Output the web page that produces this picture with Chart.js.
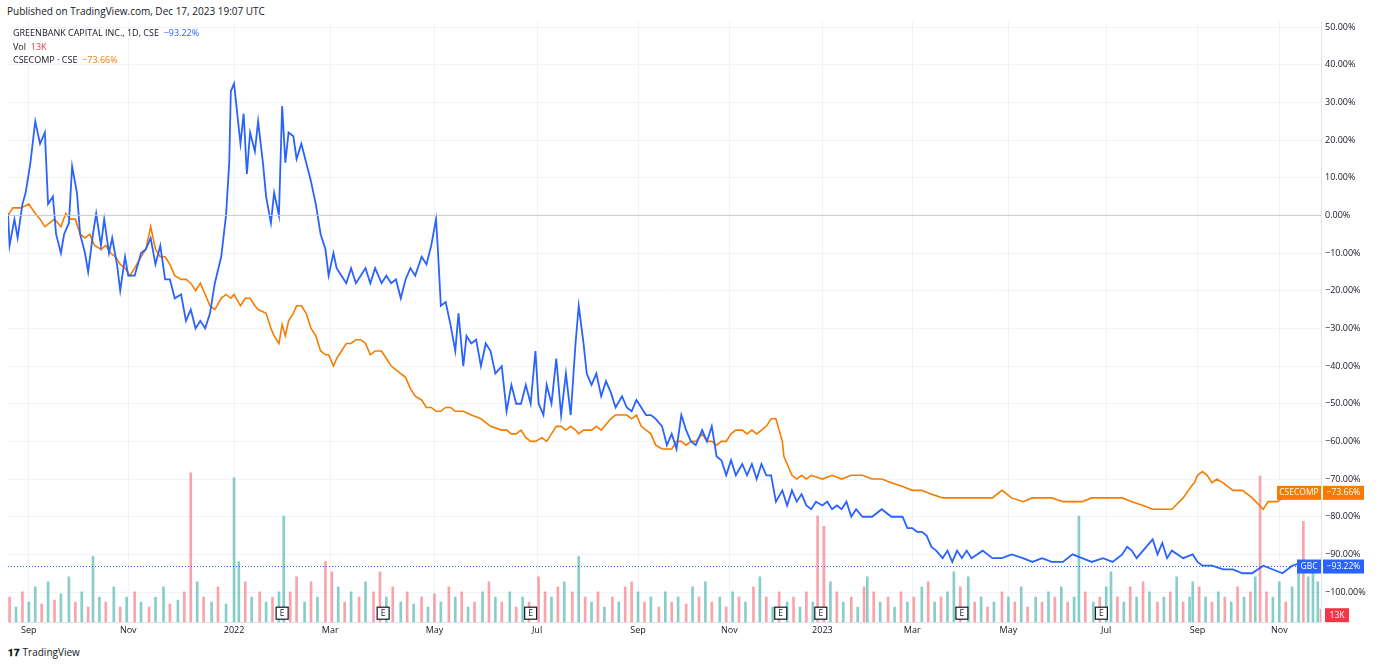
<!DOCTYPE html>
<html>
<head>
<meta charset="utf-8">
<script src="https://cdn.jsdelivr.net/npm/chart.js@4/dist/chart.umd.min.js"></script>
<style>
body { margin:0; width:1379px; height:665px; background:#fff; font-family:"Open Sans", Roboto, sans-serif; overflow:hidden; position:relative; }
#pub { position:absolute; left:7px; top:4px; font-size:10px; color:#131722; }
#box { position:absolute; left:0; top:12px; width:1379px; height:627px; }
#legend { position:absolute; left:13px; top:26px; font-size:9px; color:#131722; line-height:13.5px; }
#logo { position:absolute; left:8px; top:645px; font-size:10px; color:#131722; }
</style>
</head>
<body>
<div id="pub">Published on TradingView.com, Dec 17, 2023 19:07 UTC</div>
<div id="box"><canvas id="chart"></canvas></div>
<div id="legend">
GREENBANK CAPITAL INC., 1D, CSE &nbsp;<span style="color:#2962ff">−93.22%</span><br>
Vol &nbsp;<span style="color:#f23645">13K</span><br>
CSECOMP · CSE &nbsp;<span style="color:#f57c00">−73.66%</span>
</div>
<div id="logo"><b>𝟏𝟕</b> TradingView</div>
<script>
// x unit = bar index (trading days since series start)
var tickDays = [13, 75, 141, 201, 266, 330, 393, 450, 508, 564, 624, 685, 742, 793];
var tickLabels = ["Sep", "Nov", "2022", "Mar", "May", "Jul", "Sep", "Nov", "2023", "Mar", "May", "Jul", "Sep", "Nov"];
var pctTicks = [50, 40, 30, 20, 10, 0, -10, -20, -30, -40, -50, -60, -70, -80, -90, -100];

var gbcDays = [0,1,4,6,9,11,14,17,20,23,25,28,30,33,35,38,40,43,45,48,50,53,55,58,60,63,65,68,70,73,75,79,83,86,89,92,95,98,101,104,108,111,114,117,120,123,126,129,133,136,138,139,141,143,145,147,149,151,154,156,159,161,164,166,169,171,173,175,178,180,183,186,189,192,195,198,200,203,205,208,211,214,217,220,223,226,229,233,236,239,242,245,248,251,254,258,261,264,267,268,270,273,276,279,281,284,286,289,292,295,298,301,304,308,311,314,317,320,323,326,329,331,334,336,339,342,345,348,351,354,356,359,361,364,367,370,373,376,379,383,386,389,392,395,398,401,404,408,411,414,417,420,423,426,429,433,436,439,442,445,448,451,454,458,461,464,467,470,473,476,479,483,486,489,492,495,498,501,504,508,511,514,517,520,523,526,529,533,539,545,551,558,561,564,567,570,573,576,579,583,586,589,592,595,598,601,608,614,620,626,633,639,645,651,658,664,670,676,683,689,695,698,701,704,708,714,717,720,723,726,733,739,742,745,751,758,764,770,776,783,789,795,801,808,814,819];
var gbcPct = [0.5,-8,-1,-6,3,6,14,25,19,22,3,5,-5,-10,-5,-2,13,6,-5,-10,-15,-5,0.5,-8,-1,-10,-6,-13,-20,-11,-16,-16,-10,-9,-6,-13,-8,-17,-17,-22,-21,-28,-25,-30,-28,-30,-26,-18,-11,0,14,33,35,27,19,27,11,22,17,25,14,5,-2,6,0,29,14,22,21,15,19,14,9,3,-5,-9,-16,-10,-14,-16,-18,-14,-18,-16,-14,-18,-14,-18,-16,-18,-17,-22,-17,-14,-16,-11,-13,-8,-1,-8,-24,-23,-29,-36,-26,-40,-32,-34,-33,-40,-34,-36,-42,-40,-52,-45,-50,-50,-45,-50,-36,-50,-53,-45,-50,-38,-53,-42,-53,-34,-24,-34,-42,-45,-42,-48,-44,-47,-51,-48,-51,-52,-49,-51,-53,-53,-54,-56,-61,-58,-62,-53,-57,-60,-61,-57,-60,-56,-64,-65,-69,-65,-69,-66,-69,-66,-70,-66,-69,-69,-76,-73,-77,-73,-76,-74,-77,-78,-76,-77,-76,-78,-77,-78,-76,-80,-78,-80,-80,-78,-80,-80,-83,-83,-84,-84,-85,-88,-89,-91,-89,-92,-89,-91,-89,-91,-89,-91,-91,-90,-91,-92,-91,-92,-92,-90,-91,-92,-91,-92,-90,-88,-89,-91,-89,-86,-90,-87,-91,-89,-91,-90,-92,-93,-93,-94,-94,-95,-95,-93,-94,-95,-93,-92,-93,-93.22];

var cseDays = [0,3,8,13,17,20,23,26,29,33,36,39,42,45,48,51,54,58,61,64,67,70,73,76,79,83,86,89,92,95,98,101,104,108,111,114,117,120,123,126,129,133,136,139,141,145,148,151,154,156,161,164,166,169,171,173,175,178,180,183,186,189,192,195,198,200,203,205,208,211,214,217,220,223,226,229,233,236,239,242,245,248,251,254,258,261,264,267,270,273,276,279,281,284,289,295,301,308,311,314,317,320,323,326,329,333,336,339,342,345,348,351,354,356,359,364,367,370,376,379,383,386,389,392,395,398,401,404,408,411,414,417,420,423,426,429,433,436,439,442,445,448,451,454,458,461,464,467,470,473,476,479,483,484,486,489,492,495,498,501,508,514,520,526,533,539,545,551,558,564,570,576,583,589,595,601,608,614,620,626,633,639,645,651,658,664,670,676,683,689,695,701,708,714,720,726,733,738,740,742,745,748,751,754,758,761,764,770,776,783,786,789,792,795,801,808,814,819];
var csePct = [0,2,2,3,0.5,-1,-3,-2,-1,-3,0.5,-1,-1,-5,-6,-5,-8,-9,-8,-10,-11,-13,-14,-16,-14,-11,-9,-3,-9,-11,-11,-13,-16,-17,-17,-18,-20,-18,-21,-24,-25,-22,-21,-22,-21,-24,-22,-22,-24,-25,-26,-30,-32,-34,-29,-32,-28,-26,-24,-24,-26,-30,-32,-36,-37,-37,-40,-38,-36,-34,-34,-33,-33,-34,-37,-36,-36,-38,-40,-41,-42,-43,-46,-48,-49,-51,-51,-52,-52,-51,-51,-52,-52,-52,-53,-54,-56,-57,-57,-58,-58,-57,-59,-60,-60,-59,-60,-58,-56,-56,-57,-56,-57,-58,-57,-57,-56,-57,-54,-53,-53,-53,-54,-53,-56,-57,-58,-61,-62,-62,-62,-60,-60,-61,-60,-60,-58,-60,-60,-61,-60,-60,-58,-57,-57,-58,-57,-58,-57,-56,-54,-54,-60,-64,-66,-69,-70,-69,-70,-69,-70,-69,-70,-69,-69,-70,-70,-71,-72,-73,-73,-74,-75,-75,-75,-75,-75,-75,-73,-75,-76,-75,-75,-75,-76,-76,-76,-75,-75,-75,-75,-76,-77,-78,-78,-78,-75,-72,-71,-69,-68,-69,-71,-70,-71,-72,-73,-73,-75,-78,-76,-76,-76,-75,-73,-73.66];

// volume bars: [bar index, volume in K, 1 = up day]
var volBars = [
  [1,25,0],[5,15,1],[9,30,0],[13,20,1],[17,35,1],[21,18,0],[25,40,1],[29,22,0],[33,28,1],[38,45,1],
  [42,20,0],[46,30,1],[50,15,0],[53,65,1],[57,25,1],[61,20,0],[66,35,1],[70,15,0],[74,25,1],[79,30,0],
  [83,20,1],[88,15,0],[92,25,1],[97,35,1],[101,18,0],[106,22,1],[110,30,0],[114,148,0],[118,40,1],[122,25,0],
  [127,20,1],[131,35,0],[136,18,1],[141,143,1],[144,60,1],[148,40,0],[152,25,1],[157,30,0],[161,20,1],[165,25,0],
  [169,30,1],[172,105,1],[176,30,0],[180,45,0],[185,20,1],[189,40,0],[193,25,1],[198,60,0],[202,50,0],[206,35,1],
  [210,20,0],[214,30,1],[219,25,0],[223,40,1],[228,30,0],[232,50,0],[236,25,1],[240,35,0],[245,20,1],[249,30,0],
  [253,18,1],[258,25,0],[262,15,1],[266,28,0],[270,20,1],[275,35,0],[279,25,1],[283,30,0],[287,15,1],[291,20,0],
  [296,30,1],[300,40,0],[304,25,1],[308,20,0],[313,30,1],[317,15,0],[321,25,1],[325,20,0],[331,45,0],[335,30,0],
  [339,25,1],[343,35,0],[347,40,1],[352,30,0],[356,65,1],[360,25,0],[364,20,1],[368,30,0],[372,15,1],[377,25,0],
  [381,20,1],[385,35,0],[389,40,0],[393,30,1],[397,20,0],[401,25,1],[406,15,0],[410,30,1],[414,20,0],[418,25,1],
  [423,18,0],[427,35,1],[431,25,0],[435,40,1],[439,20,0],[444,25,1],[448,15,0],[452,30,1],[456,25,0],[460,20,1],
  [465,35,0],[469,45,1],[473,25,0],[477,15,1],[481,30,0],[486,20,1],[490,25,0],[494,15,1],[498,30,0],[502,20,1],
  [505,105,0],[509,95,0],[513,40,1],[517,30,0],[521,20,1],[526,25,0],[530,15,1],[534,35,0],[536,45,1],[540,30,0],
  [544,20,1],[549,25,0],[553,15,1],[557,30,0],[561,20,1],[565,25,0],[570,35,1],[574,40,0],[578,20,1],[582,25,0],
  [586,30,1],[590,50,1],[594,35,0],[599,45,1],[603,20,0],[607,25,1],[611,15,0],[615,20,1],[620,30,0],[624,25,1],
  [628,20,0],[632,35,1],[636,15,0],[641,25,1],[645,20,0],[649,30,1],[653,25,0],[657,35,1],[661,20,0],[665,25,1],
  [668,105,1],[672,30,0],[677,20,1],[681,25,0],[685,35,1],[688,50,1],[692,25,0],[696,20,1],[700,35,0],[704,25,1],
  [708,40,0],[712,30,1],[717,20,0],[721,25,1],[725,30,0],[729,45,1],[733,20,0],[737,25,1],[739,40,1],[743,35,0],
  [747,25,1],[751,20,0],[755,30,1],[759,25,0],[763,20,1],[767,35,0],[771,25,1],[775,30,0],[778,45,1],[781,145,0],
  [785,30,0],[789,25,1],[793,40,1],[797,20,0],[801,35,1],[805,60,1],[808,100,0],[811,45,1],[814,60,1],[817,40,1],[819,13,0]
];
var earningDays = [171, 234, 326, 482, 507, 595, 682];

var VMAX = 595;
var green = "rgba(38,166,154,0.55)", red = "rgba(242,54,69,0.45)";

var tagPlugin = {
    id: "tags",
    afterDraw: function (chart) {
        var ctx = chart.ctx, y = chart.scales.y, x = chart.scales.x, area = chart.chartArea;
        ctx.save();
        ctx.strokeStyle = "#c8cbd3"; ctx.lineWidth = 1;
        ctx.beginPath(); ctx.moveTo(area.left, y.getPixelForValue(0)); ctx.lineTo(area.right, y.getPixelForValue(0)); ctx.stroke();
        var gy = y.getPixelForValue(gbcPct[gbcPct.length - 1]);
        ctx.setLineDash([1, 2]); ctx.strokeStyle = "#2962ff";
        ctx.beginPath(); ctx.moveTo(area.left, gy); ctx.lineTo(area.right, gy); ctx.stroke();
        ctx.setLineDash([]);
        ctx.font = "8.5px 'Open Sans'"; ctx.textBaseline = "middle"; ctx.textAlign = "center";
        function tag(x0, w, yy, col, txt) {
            ctx.fillStyle = col; ctx.fillRect(x0, yy - 7, w, 14);
            ctx.fillStyle = "#fff"; ctx.fillText(txt, x0 + w / 2, yy);
        }
        var cy = y.getPixelForValue(csePct[csePct.length - 1]);
        tag(area.right - 44, 44, cy, "#f57c00", "CSECOMP");
        tag(area.right + 2, 41, cy, "#f57c00", "−73.66%");
        tag(area.right - 24, 24, gy, "#2962ff", "GBC");
        tag(area.right + 2, 41, gy, "#2962ff", "−93.22%");
        tag(area.right + 4, 24, area.bottom - 7, "#f23645", "13K");
        earningDays.forEach(function (d) {
            var px = x.getPixelForValue(d), py = area.bottom - 9;
            ctx.fillStyle = "#fff"; ctx.fillRect(px - 6, py - 6, 12, 12);
            ctx.strokeStyle = "#131722"; ctx.lineWidth = 1.2; ctx.strokeRect(px - 6, py - 6, 12, 12);
            ctx.fillStyle = "#131722"; ctx.fillText("E", px, py + 0.5);
        });
        ctx.restore();
    }
};

new Chart(document.getElementById("chart"), {
    data: {
        datasets: [
            {
                type: "line", label: "GBC", yAxisID: "y",
                data: gbcDays.map(function (d, i) { return {x: d, y: gbcPct[i]}; }),
                borderColor: "#2962ff", borderWidth: 1.8, pointRadius: 0, tension: 0, order: 1
            },
            {
                type: "line", label: "CSECOMP", yAxisID: "y",
                data: cseDays.map(function (d, i) { return {x: d, y: csePct[i]}; }),
                borderColor: "#f57c00", borderWidth: 1.6, pointRadius: 0, tension: 0, order: 2
            },
            {
                type: "bar", label: "Vol", yAxisID: "v",
                data: volBars.map(function (b) { return {x: b[0], y: b[1]}; }),
                backgroundColor: volBars.map(function (b) { return b[2] ? green : red; }),
                barThickness: 2, order: 3
            }
        ]
    },
    options: {
        responsive: true, maintainAspectRatio: false, animation: false,
        layout: { padding: { left: 8, top: 0, right: 0, bottom: 0 } },
        plugins: { legend: { display: false }, tooltip: { enabled: false } },
        scales: {
            x: {
                type: "linear", min: 0, max: 819, offset: false,
                afterBuildTicks: function (s) { s.ticks = tickDays.map(function (d) { return {value: d}; }); },
                ticks: {
                    autoSkip: false, maxRotation: 0, color: "#131722", font: {size: 9, family: "Open Sans"},
                    callback: function (v, i) { return tickLabels[i]; }
                },
                grid: { color: "#f0f3fa", drawTicks: false, offset: false },
                border: { color: "#e0e3eb" }
            },
            y: {
                position: "right", min: -108, max: 51.5,
                afterBuildTicks: function (s) { s.ticks = pctTicks.map(function (v) { return {value: v}; }); },
                afterFit: function (s) { s.width = 58; },
                ticks: {
                    color: "#131722", font: {size: 9, family: "Open Sans"}, padding: 4,
                    callback: function (v) { return (v < 0 ? "−" : "") + Math.abs(v).toFixed(2) + "%"; }
                },
                grid: { color: "#f0f3fa", drawTicks: false },
                border: { color: "#e0e3eb" }
            },
            v: { display: false, min: 0, max: VMAX }
        }
    },
    plugins: [tagPlugin]
});
</script>
</body>
</html>
